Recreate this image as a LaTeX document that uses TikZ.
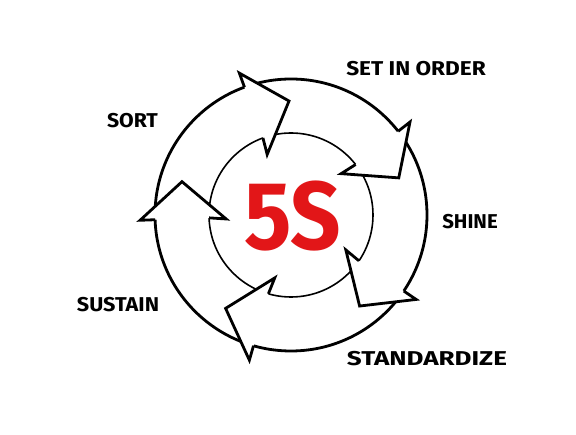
\documentclass[tikz,border=0pt]{standalone}
\usepackage{fontspec}
\setmainfont{Fira Sans}
\definecolor{fsred}{RGB}{226,22,24}
\tikzset{
  outerring/.style={line width=2.8pt},
  innerring/.style={line width=1.6pt},
  headline/.style={line width=2.8pt, line join=miter, miter limit=6},
  lbl/.style={font=\fontsize{20}{22}\selectfont\bfseries, inner sep=0pt, text=black},
  big/.style={font=\fontsize{92}{92}\selectfont\bfseries, inner sep=0pt, text=fsred}
}
\begin{document}
\begin{tikzpicture}[x=1pt,y=1pt]
\useasboundingbox[fill=white] (-291,-220) rectangle (285,215);
% ring outlines
\draw[outerring] (0,0) circle (136);
\draw[innerring] (0,0) circle (82);
% arrow heads
\foreach \b in {110,38,-34,-106,-178}{
  \fill[white] (\b:136) -- (\b:151) -- (\b-19:114) -- (\b+1.5:65) -- (\b:82) -- cycle;
  \draw[headline] (\b:136) -- (\b:151) -- (\b-19:114) -- (\b+1.5:65) -- (\b:82);
}
% centre text
\node[big, xscale=0.96, yscale=1.05] (five) at (2,-1) {5S};
% labels
\node[lbl, xscale=1.06] (sort) at (-158.5,94) {SORT};
\node[lbl, xscale=1.13] (order) at (125,146) {SET IN ORDER};
\node[lbl, xscale=1.02] (shine) at (179,-7) {SHINE};
\node[lbl, xscale=1.3] (stand) at (136,-144) {STANDARDIZE};
\node[lbl, xscale=1.08] (sustain) at (-173,-90) {SUSTAIN};
\end{tikzpicture}
\end{document}
